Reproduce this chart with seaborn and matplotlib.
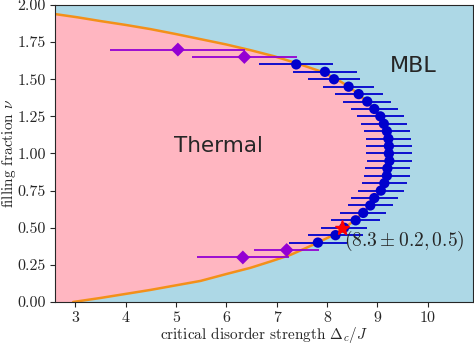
import numpy as np
import pandas as pd
import matplotlib
matplotlib.use("Agg")
import matplotlib.pyplot as plt
import seaborn as sns

# ---- data ----
nu_blue = [0.40, 0.45, 0.50, 0.55, 0.60, 0.65, 0.70, 0.75, 0.80, 0.85, 0.90, 0.95,
           1.00, 1.05, 1.10, 1.15, 1.20, 1.25, 1.30, 1.35, 1.40, 1.45, 1.50, 1.55, 1.60]
delta_blue = [7.82, 8.17, 8.34, 8.57, 8.72, 8.86, 8.94, 9.07, 9.14, 9.19, 9.20, 9.24,
              9.23, 9.23, 9.22, 9.19, 9.13, 9.06, 8.94, 8.80, 8.63, 8.43, 8.14, 7.96, 7.39]
err_blue = [0.57, 0.55, 0.46, 0.48, 0.46, 0.45, 0.47, 0.45, 0.45, 0.45, 0.45, 0.45,
            0.45, 0.45, 0.45, 0.45, 0.46, 0.46, 0.47, 0.48, 0.48, 0.50, 0.51, 0.64, 0.73]

nu_purple = [0.30, 0.35, 1.65, 1.70]
delta_purple = [6.33, 7.20, 6.36, 5.04]
err_purple = [0.92, 0.64, 1.04, 1.34]

# boundary curve
curve_nu = [0.000, 0.027, 0.081, 0.142, 0.190, 0.230, 0.275, 0.318, 0.360, 0.400,
            0.45, 0.50, 0.55, 0.60, 0.65, 0.70, 0.75, 0.80, 0.85, 0.90, 1.00,
            1.10, 1.20, 1.30, 1.40, 1.45, 1.50, 1.55, 1.608, 1.655, 1.696, 1.735,
            1.770, 1.805, 1.838, 1.866, 1.892, 1.917, 1.939]
curve_delta = [2.96, 3.50, 4.49, 5.49, 6.02, 6.48, 6.90, 7.28, 7.56, 7.82,
               8.12, 8.35, 8.55, 8.72, 8.85, 8.96, 9.06, 9.13, 9.18, 9.21, 9.23,
               9.21, 9.13, 8.94, 8.63, 8.43, 8.20, 7.90, 7.40, 6.95, 6.48, 5.99,
               5.49, 4.99, 4.49, 4.00, 3.50, 3.05, 2.60]

star_delta, star_nu = 8.3, 0.5
star_label = r"$(8.3 \pm 0.2, 0.5)$"

x_ticks = [3, 4, 5, 6, 7, 8, 9, 10]
y_ticks = [0.00, 0.25, 0.50, 0.75, 1.00, 1.25, 1.50, 1.75, 2.00]

# ---- style ----
sns.set_style("ticks")
plt.rcParams["font.family"] = ["cmr10", "DejaVu Sans"]
plt.rcParams["mathtext.fontset"] = "cm"
plt.rcParams["axes.unicode_minus"] = False
plt.rcParams["axes.formatter.use_mathtext"] = True

fig = plt.figure(figsize=(4.74, 3.46), dpi=100)
ax = fig.add_axes([55 / 474, 1 - 302 / 346, (473 - 55) / 474, (302 - 5) / 346])

xmin, xmax = 2.6, 10.9
ax.set_xlim(xmin, xmax)
ax.set_ylim(0, 2.0)
ax.set_facecolor("#ADD8E6")

curve = pd.DataFrame({"delta": curve_delta, "nu": curve_nu})
ax.fill_betweenx(curve["nu"], xmin - 1, curve["delta"], color="#FFB6C1", lw=0, zorder=0.5)
sns.lineplot(data=curve, x="delta", y="nu", sort=False, estimator=None,
             color="#F39019", lw=1.8, ax=ax, zorder=1)

# error bars
ax.errorbar(delta_purple, nu_purple, xerr=err_purple, fmt="none",
            ecolor="#9400D3", elinewidth=1.3, zorder=2)
ax.errorbar(delta_blue, nu_blue, xerr=err_blue, fmt="none",
            ecolor="#0000CD", elinewidth=1.3, zorder=2)

pts_blue = pd.DataFrame({"delta": delta_blue, "nu": nu_blue})
pts_purple = pd.DataFrame({"delta": delta_purple, "nu": nu_purple})
sns.scatterplot(data=pts_blue, x="delta", y="nu", color="#0000CD", s=55,
                marker="o", edgecolor="none", ax=ax, zorder=3)
sns.scatterplot(data=pts_purple, x="delta", y="nu", color="#9400D3", s=50,
                marker="D", edgecolor="none", ax=ax, zorder=3)
ax.plot([star_delta], [star_nu], marker="*", color="red", ms=11, ls="none", zorder=4)
ax.text(star_delta + 0.04, star_nu - 0.09, star_label, fontsize=14,
        ha="left", va="center", zorder=5)

ax.text(5.84, 1.05, "Thermal", fontsize=15.5, family="DejaVu Sans",
        ha="center", va="center")
ax.text(9.71, 1.59, "MBL", fontsize=16, family="DejaVu Sans",
        ha="center", va="center")

ax.set_xticks(x_ticks)
ax.set_yticks(y_ticks)
ax.set_yticklabels([f"{v:.2f}" for v in y_ticks])
ax.set_xticklabels([str(v) for v in x_ticks])
ax.tick_params(labelsize=11.5, pad=3)
ax.set_xlabel(r"critical disorder strength $\Delta_c/J$", fontsize=11, va="baseline")
ax.set_ylabel(r"filling fraction $\nu$", fontsize=11, va="center")
ax.xaxis.set_label_coords(0.5, (302 - 339) / 297)
ax.yaxis.set_label_coords((9 - 55) / 418, 0.5)

fig.savefig("out.png", dpi=100)
